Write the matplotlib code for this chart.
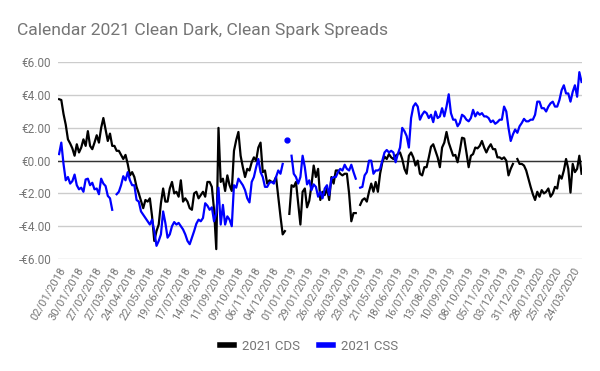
import numpy as np
import matplotlib
matplotlib.use("Agg")
import matplotlib.pyplot as plt
from matplotlib.lines import Line2D
from matplotlib.ticker import FuncFormatter

plt.rcParams['font.family'] = ['Roboto', 'DejaVu Sans']

nan = np.nan

# Calendar 2021 spreads, sampled twice a week (EUR/MWh)
cds = [3.75, 3.7, 2.85, 2.2, 1.3, 1.05, 0.75, 0.3, 1.0, 0.5,
       0.8, 1.3, 0.9, 1.8, 0.9, 0.7, 1.1, 1.55, 1.1, 2.0,
       2.6, 1.9, 1.2, 1.65, 0.9, 0.9, 0.6, 0.6, 0.35, 0.1,
       0.35, -0.2, -0.9, -0.7, -1.0, -1.6, -2.0, -2.45, -2.9, -2.4,
       -2.5, -2.3, -3.4, -4.9, -4.3, -3.9, -2.6, -1.7, -2.5, -2.5,
       -1.7, -1.3, -2.0, -1.9, -2.2, -1.2, -2.5, -2.3, -2.5, -2.9,
       -3.0, -2.0, -1.9, -2.3, -2.1, -1.9, -2.2, -1.3, -1.3, -1.6,
       -3.0, -5.4, 2.0, -1.3, -1.1, -1.85, -0.9, -1.5, -1.85, 0.6,
       1.25, 1.75, 0.3, -0.4, -1.0, -0.5, -0.6, -0.1, 0.2, 0.0,
       0.8, 1.1, -0.7, -0.6, -1.4, -1.2, -1.3, -1.3, -1.0, -2.2,
       -3.4, -4.5, -4.3, nan, -3.25, -1.5, -1.6, -1.3, -2.6, -3.9,
       -1.9, -1.7, -2.85, -2.45, -1.5, -0.3, -1.0, -0.5, -2.4, -1.9,
       -2.1, -1.7, -2.4, -1.0, -1.4, -0.6, -0.6, -0.8, -0.9, -0.8,
       -0.8, -2.0, -3.7, -3.2, -3.2, nan, -2.7, -2.4, -2.3, -2.5,
       -1.9, -1.4, -1.9, -1.3, -1.9, -0.8, -0.1, 0.25, 0.1, 0.4,
       0.2, 0.1, 0.3, 0.4, 0.5, 0.1, -0.5, -0.8, 0.3, 0.5,
       0.2, -0.3, 0.0, -0.8, -0.9, -0.4, -0.4, 0.2, 0.85, 1.0,
       0.6, 0.2, -0.4, 0.8, 1.1, 1.75, 1.1, 0.7, 0.3, 0.35,
       -0.1, 0.6, 1.4, 1.35, 0.5, -0.4, 0.3, 0.4, 0.8, 0.75,
       0.9, 1.2, 0.8, 0.5, 0.8, 1.0, 0.7, 0.7, 0.2, 0.2,
       0.1, 0.2, 0.0, -0.9, -0.5, -0.2, nan, 0.1, -0.2, -0.2,
       -0.3, -0.6, -1.1, -1.6, -2.05, -2.4, -1.9, -2.2, -1.8, -2.0,
       -1.9, -1.7, -2.2, -2.0, -1.6, -1.7, -0.9, -1.1, -0.6, 0.1,
       -0.5, -1.95, -0.2, -0.7, -0.5, 0.3, -0.8]

css = [0.4, 1.1, -0.2, -1.2, -1.0, -1.4, -1.25, -0.85, -1.5, -1.75,
       -1.65, -1.9, -1.15, -1.1, -1.5, -1.35, -1.75, -1.7, -2.05, -1.1,
       -1.4, -1.55, -2.15, -2.3, -3.0, nan, -2.05, -1.9, -1.5, -0.95,
       -1.2, -0.7, -1.2, -1.5, -1.5, -2.4, -2.5, -3.1, -3.3, -3.5,
       -3.7, -3.9, -3.6, -4.3, -5.2, -4.9, -4.5, -3.1, -3.8, -4.7,
       -4.5, -4.0, -3.75, -3.9, -3.8, -4.0, -4.2, -4.5, -4.9, -5.1,
       -4.7, -4.3, -3.85, -3.6, -3.7, -3.5, -2.6, -2.75, -3.0, -2.85,
       -3.7, -3.2, -1.65, -3.9, -2.7, -3.9, -3.4, -3.6, -4.0, -1.5,
       -1.65, -1.1, -1.3, -1.5, -1.8, -2.3, -2.55, -1.3, -1.0, -0.4,
       0.1, -0.7, -1.0, -1.6, -1.6, -1.35, -1.3, -1.4, -1.0, -0.6,
       -0.8, -0.2, nan, 1.27, nan, 0.3, -0.8, -1.0, -1.4, -1.0,
       0.3, -0.4, -1.45, -1.2, -1.8, -1.45, -1.6, -2.2, -1.9, -2.3,
       -1.7, -1.5, -2.1, -1.1, -1.0, -1.0, -0.7, -0.5, -0.6, -0.25,
       -0.5, -0.6, -0.25, -0.7, -1.1, nan, -1.65, -1.6, -0.9, -0.7,
       0.0, 0.0, -0.8, -0.6, -0.6, -0.5, 0.0, 0.5, 0.65, 0.5,
       0.6, 0.5, -0.1, 0.4, 0.8, 2.0, 1.8, 1.5, 0.8, 2.6,
       3.3, 3.5, 3.3, 2.5, 2.8, 3.0, 2.9, 2.6, 2.8, 2.35,
       3.0, 2.6, 2.7, 3.2, 2.7, 3.3, 4.05, 2.9, 2.5, 2.5,
       2.1, 2.3, 2.8, 2.7, 2.5, 2.4, 2.6, 3.1, 2.7, 2.95,
       2.8, 2.9, 2.7, 2.7, 2.6, 2.35, 2.45, 2.25, 2.35, 2.5,
       2.5, 3.3, 3.0, 2.0, 1.2, 1.6, 1.9, 1.7, 2.1, 2.3,
       2.55, 2.4, 2.4, 2.5, 2.5, 2.8, 3.6, 3.6, 3.2, 3.2,
       3.0, 3.3, 3.5, 3.6, 3.3, 3.3, 3.7, 4.3, 4.6, 4.1,
       4.1, 3.6, 4.2, 4.6, 3.9, 5.4, 4.8]

# one label every 8 samples (4 weeks)
tick_labels = ['02/01/2018', '30/01/2018', '27/02/2018', '27/03/2018', '24/04/2018',
               '22/05/2018', '19/06/2018', '17/07/2018', '14/08/2018', '11/09/2018',
               '09/10/2018', '06/11/2018', '04/12/2018', '01/01/2019', '29/01/2019',
               '26/02/2019', '26/03/2019', '23/04/2019', '21/05/2019', '18/06/2019',
               '16/07/2019', '13/08/2019', '10/09/2019', '08/10/2019', '05/11/2019',
               '03/12/2019', '31/12/2019', '28/01/2020', '25/02/2020', '24/03/2020']
tick_step = 8

series_names = ['2021 CDS', '2021 CSS']
series_colors = ['#000000', '#0000ff']
grey = '#757575'

fig = plt.figure(figsize=(6, 3.71), dpi=100)
ax = fig.add_axes([0.097, 0.302, 0.873, 0.530])

x = np.arange(len(cds))
for vals, name, col in zip([cds, css], series_names, series_colors):
    v = np.asarray(vals, dtype=float)
    ax.plot(x, v, color=col, lw=1.6, label=name, zorder=3)
    # single points between gaps are drawn as dots
    prev = np.r_[nan, v[:-1]]
    nxt = np.r_[v[1:], nan]
    iso = np.isfinite(v) & np.isnan(prev) & np.isnan(nxt)
    ax.plot(x[iso], v[iso], 'o', color=col, ms=3.5, zorder=3)

ax.set_xlim(-0.4, len(cds) - 0.8)
ax.set_ylim(-6, 6)
ax.set_yticks(np.arange(-6, 7, 2))
ax.yaxis.set_major_formatter(FuncFormatter(
    lambda v, _: ('-' if v < 0 else '') + '€{:.2f}'.format(abs(v))))
ax.yaxis.grid(True, color='#cccccc', lw=1, zorder=0)
ax.axhline(0, color='#333333', lw=1, zorder=2)

ax.set_xticks(np.arange(len(tick_labels)) * tick_step)
ax.set_xticklabels(tick_labels, rotation=60, ha='right', rotation_mode='anchor')
ax.tick_params(axis='x', length=0, pad=5, labelsize=8, labelcolor=grey)
ax.tick_params(axis='y', length=0, pad=5, labelsize=8.5, labelcolor=grey)
for s in ax.spines.values():
    s.set_visible(False)

fig.text(17 / 600, 1 - 31 / 371, 'Calendar 2021 Clean Dark, Clean Spark Spreads',
         fontsize=12.6, color=grey, va='center', ha='left')

handles = [Line2D([], [], color=c, lw=4) for c in series_colors]
fig.legend(handles, series_names, loc='center', bbox_to_anchor=(0.515, 0.067),
           ncol=2, frameon=False, fontsize=9.5, labelcolor=grey,
           handlelength=1.1, handletextpad=0.6, columnspacing=1.4)

fig.savefig('out.png', dpi=100)
